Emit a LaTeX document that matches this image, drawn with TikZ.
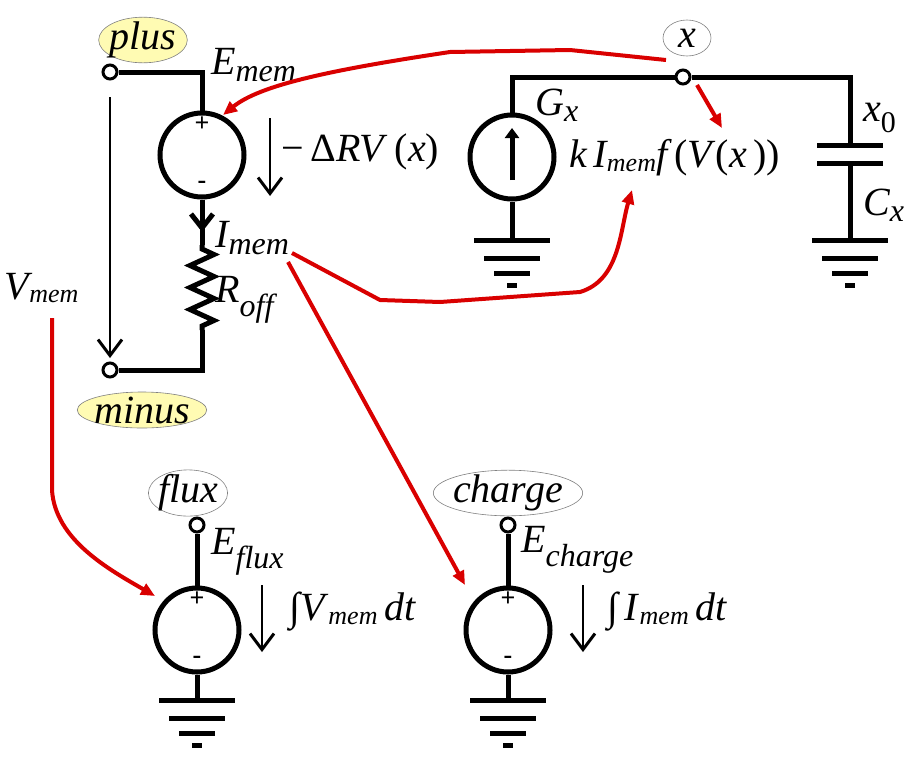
\documentclass[tikz,border=0pt]{standalone}
\usepackage{fontspec}
\setmainfont{Liberation Serif}
\usetikzlibrary{shapes.geometric,arrows.meta,decorations.pathmorphing}
\begin{document}
\begin{tikzpicture}[x=1pt,y=-1pt,
  w/.style={line width=5pt},
  src/.style={circle,draw,line width=5pt,minimum size=84pt,inner sep=0pt},
  term/.style={circle,draw,line width=3pt,fill=white,minimum size=14pt,inner sep=0pt},
  lab/.style={font=\fontsize{40}{42}\selectfont\itshape,inner sep=1pt},
  sub/.style={},
  tag/.style={ellipse,draw=gray,line width=0.6pt,font=\fontsize{40}{42}\selectfont\itshape,inner sep=-2pt,minimum height=36pt},
  pm/.style={font=\bfseries\fontsize{26}{26}\selectfont},
  varr/.style={line width=1.5pt,-{Straight Barb[length=16pt,width=24pt,line width=3pt]}},
  red/.style={draw=red!85!black,line width=4pt,-{Triangle[length=14pt,width=12pt]}},
  gnd/.pic={\draw[w] (-38,0)--(38,0) (-28,18)--(28,18) (-18,33)--(18,33) (-5,45)--(5,45);}
]
\useasboundingbox (0,0) rectangle (920,774);
\newcommand{\sbs}[1]{\textsubscript{\itshape\fontsize{32}{32}\selectfont #1}}
% left memristor circuit
\node[src] (em) at (202,155) {};
\node[pm] at (202,124) {+};
\node[pm] at (202,185) {-};
\node[term] (plus) at (110,72) {};
\node[term] (minus) at (110,370) {};
\node[tag,fill=yellow!30] (plust) at (143,40) {plus};
\node[tag,fill=yellow!30] (minust) at (142,410) {minus};
\coordinate (r1) at (202,245);
\coordinate (r2) at (202,330);
\draw[w] (plus) -- (202,72) -- (em.north);
\draw[w] (em.south) -- (r1);
\draw[w,-{Straight Barb[length=14pt,width=22pt]}] (em.south) -- (202,232);
\draw[w,decorate,decoration={zigzag,segment length=22pt,amplitude=12pt,pre length=4pt,post length=4pt}] (r1) -- (r2);
\draw[w] (r2) -- (202,370) -- (minus);
\draw[varr] (110,97) -- (110,358);
\draw[varr] (270,118) -- (270,196);
\node[lab,anchor=west] (elab) at (210,65) {E\sbs{mem}};
\node[lab,anchor=west] (dr) at (280,152) {\upshape−\,Δ\textit{RV}\,(\textit{x})};
\node[lab,anchor=west] (imem) at (214,238) {I\sbs{mem}};
\node[lab,anchor=west] (roff) at (214,300) {R\sbs{off}};
\node[lab] (vmem) at (42,288) {V\textsubscript{\itshape\fontsize{26}{26}\selectfont mem}};
% right circuit
\node[src] (gx) at (512,157) {};
\draw[line width=5pt,-{Triangle[length=10pt,width=14pt]}] (512,180) -- (512,128);
\node[term] (xn) at (683,77) {};
\node[tag,minimum width=48pt] (xt) at (687,38) {x};
\draw[w] (gx.north) -- (512,77) -- (xn) -- (850,77) -- (850,145);
\draw[w] (817,145) -- (883,145) (817,163) -- (883,163);
\draw[w] (850,163) -- (850,240);
\draw[w] (gx.south) -- (512,240);
\pic at (512,240) {gnd};
\pic at (850,240) {gnd};
\node[lab,anchor=west] at (534,105) {G\sbs{x}};
\node[lab,anchor=west] at (862,118) {x\textsubscript{\upshape\fontsize{30}{30}\selectfont 0}};
\node[lab,anchor=west] at (862,205) {C\sbs{x}};
\node[lab,anchor=west] (kf) at (568,158) {k\,I\textsubscript{\itshape\fontsize{26}{26}\selectfont mem}f\,\upshape(\textit{V}(\textit{x}\,))};
% bottom sources
\node[src] (ef) at (197,630) {};
\node[src] (ec) at (508,630) {};
\node[pm] at (197,599) {+};
\node[pm] at (197,660) {-};
\node[pm] at (508,599) {+};
\node[pm] at (508,660) {-};
\node[term] (ft) at (197,525) {};
\node[term] (ct) at (508,525) {};
\node[tag] (flt) at (188,493) {flux};
\node[tag] (cht) at (508,493) {charge};
\draw[w] (ft) -- (ef.north) (ef.south) -- (197,700);
\draw[w] (ct) -- (ec.north) (ec.south) -- (508,700);
\pic at (197,700) {gnd};
\pic at (508,700) {gnd};
\draw[varr] (262,585) -- (262,652);
\draw[varr] (583,585) -- (583,652);
\node[lab,anchor=west] at (210,552) {E\sbs{flux}};
\node[lab,anchor=west] at (520,550) {E\sbs{charge}};
\node[lab,anchor=west] at (288,612) {\upshape∫\textit{V}\textsubscript{\itshape\fontsize{26}{26}\selectfont mem}\,\textit{dt}};
\node[lab,anchor=west] at (606,612) {\upshape∫\,\textit{I}\textsubscript{\itshape\fontsize{26}{26}\selectfont mem}\,\textit{dt}};
% red connectors
\draw[red] (666,60) -- (570,50) -- (450,52) .. controls (330,70) and (260,85) .. (223,115);
\draw[red] (697,85) -- (722,128);
\draw[red] (292,253) -- (380,300) -- (440,302) -- (580,292) .. controls (620,280) and (620,230) .. (632,190);
\draw[red] (288,262) -- (465,585);
\draw[red] (52,318) -- (52,490) .. controls (55,540) and (110,570) .. (155,596);
\end{tikzpicture}
\end{document}
